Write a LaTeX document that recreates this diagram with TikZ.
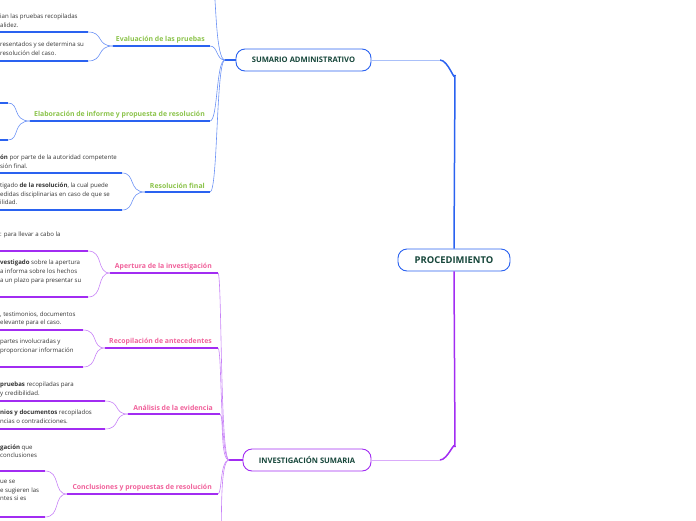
\documentclass[tikz,border=0pt]{standalone}
\usepackage{fontspec}
\setmainfont{Open Sans}
\definecolor{bl}{HTML}{2A62F0}
\definecolor{pu}{HTML}{A22CF2}
\definecolor{gr}{HTML}{8BC34A}
\definecolor{pk}{HTML}{F0609A}
\definecolor{dk}{HTML}{16463A}
\definecolor{tx}{HTML}{333333}
\begin{document}
\begin{tikzpicture}[x=1pt,y=-1pt,
 boxB/.style={draw=bl,line width=0.9pt,rounded corners=9pt,minimum height=22pt,font=\fontsize{7.6}{9}\selectfont\bfseries,text=dk,fill=white,inner xsep=8pt},
 boxP/.style={boxB,draw=pu},
 lab/.style={font=\fontsize{6.9}{8}\selectfont\bfseries,anchor=south east,inner sep=1pt},
 leaf/.style={font=\fontsize{6.1}{8.6}\selectfont,text=tx,anchor=west,align=left,inner sep=0pt},
 bline/.style={bl,line width=1.4pt},
 bcur/.style={bl!70,line width=0.6pt},
 pline/.style={pu,line width=1.4pt},
 pcur/.style={pu!60,line width=0.6pt}]
\useasboundingbox (0,0) rectangle (696,520);
\clip (0,0) rectangle (696,520);
% root
\node[boxB,minimum width=112pt] (root) at (454,260) {\fontsize{9.4}{11}\selectfont PROCEDIMIENTO};
\node[boxB,minimum width=135pt] (sum) at (303.5,60) {SUMARIO ADMINISTRATIVO};
\node[boxP,minimum width=128pt] (inv) at (307,460) {INVESTIGACIÓN SUMARIA};
\draw[bl,line width=1.5pt] (root.north) -- (455,75) to[out=-90,in=0] (440,60);
\draw[bl!40,line width=0.9pt] (440,60) -- (sum.east);
\draw[pu,line width=1.5pt] (root.south) -- (455,447) to[out=90,in=0] (440,460);
\draw[pu!40,line width=0.9pt] (440,460) -- (inv.east);
% SUMARIO branches
\coordinate (sj) at (225,60);
\draw[bl,line width=1.2pt] (sum.west) -- (sj);
\draw[bcur] (sj) .. controls (216,60) and (216,0) .. (214,-10);
\draw[bcur] (sj) .. controls (216,60) and (218,46) .. (210,46);
\draw[bcur] (sj) .. controls (216,60) and (218,121) .. (210,121);
\draw[bcur] (sj) .. controls (216,60) and (218,192) .. (210,192);
\draw[bline] (210,46) -- (113,46) coordinate (e1);
\draw[bline] (210,121) -- (30,121) coordinate (e2);
\draw[bline] (210,192) -- (145,192) coordinate (e3);
\node[lab,text=gr] (l1) at (206,44) {Evaluación de las pruebas};
\node[lab,text=gr] (l2) at (206,119) {Elaboración de informe y propuesta de resolución};
\node[lab,text=gr] (l3) at (206,190) {Resolución final};
% sub leaves blue
\draw[bcur] (e1) .. controls (96,46) and (104,32) .. (88,32);
\draw[bcur] (e1) .. controls (96,46) and (104,61) .. (88,61);
\draw[bline] (88,32) -- (-5,32); \draw[bline] (88,61) -- (-5,61);
\draw[bcur] (e2) .. controls (12,121) and (20,103) .. (8,103);
\draw[bcur] (e2) .. controls (12,121) and (20,140) .. (8,140);
\draw[bline] (8,103) -- (-5,103); \draw[bline] (8,140) -- (-5,140);
\draw[bcur] (e3) .. controls (128,192) and (136,173) .. (122,173);
\draw[bcur] (e3) .. controls (128,192) and (136,210) .. (122,210);
\draw[bline] (122,173) -- (-5,173); \draw[bline] (122,210) -- (-5,210);
\node[leaf] (t1) at (0,21) {ian las pruebas recopiladas\\alidez.};
\node[leaf] (t2) at (0,49) {resentados y se determina su\\resolución del caso.};
\node[leaf] (t3) at (0,162) {\textbf{ón} por parte de la autoridad competente\\sión final.};
\node[leaf] (t4) at (0,194) {tigado \textbf{de la resolución}, la cual puede\\edidas disciplinarias en caso de que se\\ilidad.};
% INVESTIGACION branches
\coordinate (ij) at (229,460);
\draw[pu,line width=1.2pt] (inv.west) -- (ij);
\draw[pcur] (ij) .. controls (220,460) and (222,273) .. (218,273);
\draw[pcur] (ij) .. controls (220,460) and (222,348) .. (218,348);
\draw[pcur] (ij) .. controls (220,460) and (224,414) .. (220,414);
\draw[pcur] (ij) .. controls (220,460) and (222,494) .. (218,494);
\draw[pcur] (ij) .. controls (220,460) and (222,520) .. (221,530);
\draw[pline] (218,273) -- (110,273) coordinate (f1);
\draw[pline] (218,348) -- (105,348) coordinate (f2);
\draw[pline] (220,414) -- (128,414) coordinate (f3);
\draw[pline] (218,494) -- (67,494) coordinate (f4);
\node[lab,text=pk] (m1) at (213,271) {Apertura de la investigación};
\node[lab,text=pk] (m2) at (213,346) {Recopilación de antecedentes};
\node[lab,text=pk] (m3) at (214,412) {Análisis de la evidencia};
\node[lab,text=pk] (m4) at (213,492) {Conclusiones y propuestas de resolución};
\draw[pcur] (f1) .. controls (96,273) and (104,251) .. (88,251);
\draw[pcur] (f1) .. controls (96,273) and (104,297) .. (88,297);
\draw[pline] (88,251) -- (-5,251); \draw[pline] (88,297) -- (-5,297);
\draw[pcur] (f2) .. controls (91,348) and (99,330) .. (83,330);
\draw[pcur] (f2) .. controls (91,348) and (99,367) .. (83,367);
\draw[pline] (83,330) -- (-5,330); \draw[pline] (83,367) -- (-5,367);
\draw[pcur] (f3) .. controls (113,414) and (121,401) .. (105,401);
\draw[pcur] (f3) .. controls (113,414) and (121,429) .. (105,429);
\draw[pline] (105,401) -- (-5,401); \draw[pline] (105,429) -- (-5,429);
\draw[pcur] (f4) .. controls (53,494) and (61,471) .. (45,471);
\draw[pcur] (f4) .. controls (53,494) and (61,517) .. (45,517);
\draw[pline] (45,471) -- (-5,471); \draw[pline] (45,517) -- (-5,517);
\node[leaf] (u0) at (0,235) {: para llevar a cabo la};
\node[leaf] (u1) at (0,272) {\textbf{vestigado} sobre la apertura\\a informa sobre los hechos\\a un plazo para presentar su};
\node[leaf] (u2) at (0,319) {, testimonios, documentos\\elevante para el caso.};
\node[leaf] (u3) at (0,346.5) {partes involucradas y\\proporcionar información};
\node[leaf] (u4) at (0,389.5) {\textbf{pruebas} recopiladas para\\y credibilidad.};
\node[leaf] (u5) at (0,416.5) {\textbf{nios y documentos} recopilados\\ncias o contradicciones.};
\node[leaf] (u6) at (0,451) {\textbf{gación} que\\ conclusiones};
\node[leaf] (u7) at (0,490.5) {ue se\\e sugieren las\\ntes si es};
\end{tikzpicture}
\end{document}
